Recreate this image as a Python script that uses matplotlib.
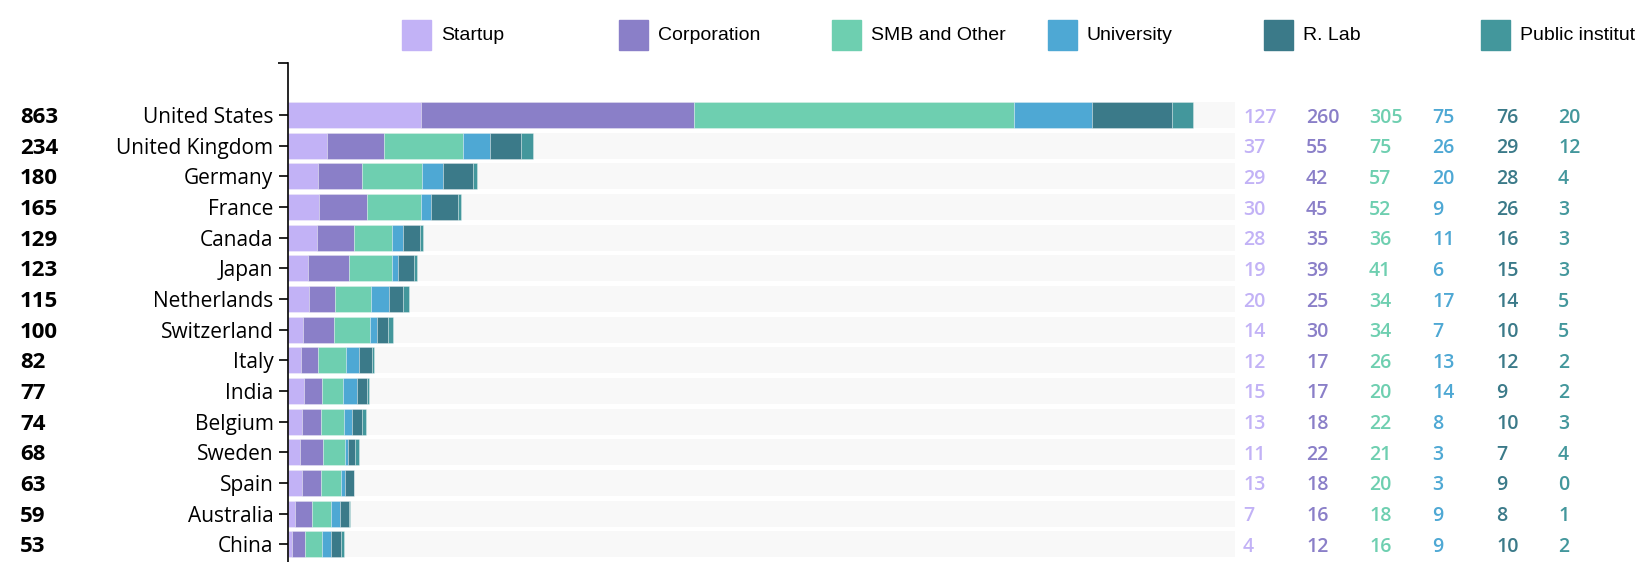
import matplotlib.pyplot as plt
from matplotlib.transforms import blended_transform_factory
from matplotlib.patches import Rectangle

# data
countries = ["United States", "United Kingdom", "Germany", "France", "Canada", "Japan",
             "Netherlands", "Switzerland", "Italy", "India", "Belgium", "Sweden",
             "Spain", "Australia", "China"]
categories = ["Startup", "Corporation", "SMB and Other", "University", "R. Lab",
              "Public institution"]
startup = [127, 37, 29, 30, 28, 19, 20, 14, 12, 15, 13, 11, 13, 7, 4]
corporation = [260, 55, 42, 45, 35, 39, 25, 30, 17, 17, 18, 22, 18, 16, 12]
smb_other = [305, 75, 57, 52, 36, 41, 34, 34, 26, 20, 22, 21, 20, 18, 16]
university = [75, 26, 20, 9, 11, 6, 17, 7, 13, 14, 8, 3, 3, 9, 9]
r_lab = [76, 29, 28, 26, 16, 15, 14, 10, 12, 9, 10, 7, 9, 8, 10]
public_inst = [20, 12, 4, 3, 3, 3, 5, 5, 2, 2, 3, 4, 0, 1, 2]

series = [startup, corporation, smb_other, university, r_lab, public_inst]
colors = ["#c2b2f6", "#8a7fc8", "#6ecfb0", "#4ea8d4", "#3b7a89", "#43979c"]
totals = [sum(v) for v in zip(*series)]

W, H = 1636, 562
fig = plt.figure(figsize=(W / 100, H / 100), dpi=100)

# axes geometry in pixels
ax_left, ax_right, ax_top = 288, 1235, 63
ax = fig.add_axes([ax_left / W, 0, (ax_right - ax_left) / W, 1 - ax_top / H])
xmax = 903
ax.set_xlim(0, xmax)
ax.set_ylim(14.58, -1.70)

n = len(countries)
ypos = list(range(n))
bar_h = 0.85

# fond gris
ax.barh(ypos, [xmax] * n, height=bar_h, color="#f8f8f8", zorder=1)

left = [0] * n
for vals, col in zip(series, colors):
    ax.barh(ypos, vals, left=left, height=bar_h, color=col,
            edgecolor=(1, 1, 1, 0.35), linewidth=0.6, zorder=2)
    left = [a + b for a, b in zip(left, vals)]

# axe gauche
for s in ["top", "right", "bottom"]:
    ax.spines[s].set_visible(False)
ax.spines["left"].set_linewidth(1.2)
ax.spines["left"].set_zorder(5)
ax.set_xticks([])
ax.set_yticks(ypos)
ax.set_yticklabels(countries, fontsize=15, fontfamily="Open Sans")
ax.tick_params(axis="y", length=6.5, width=1.2, pad=4)
ax.plot([-0.0105, 0], [1, 1], transform=ax.transAxes, color="black",
        lw=1.2, clip_on=False, solid_capstyle="butt")

tr = blended_transform_factory(fig.transFigure, ax.transData)

# totaux
for y, t in zip(ypos, totals):
    ax.text(20 / W, y, str(t), transform=tr, fontsize=16, fontweight="bold",
            fontfamily="Open Sans", ha="left", va="center_baseline", clip_on=False)

# colonnes de valeurs
col_x = [1243, 1306, 1369, 1432, 1496, 1558]
for vals, col, cx in zip(series, colors, col_x):
    for y, v in zip(ypos, vals):
        ax.text(cx / W, y, str(v), transform=tr, fontsize=14, fontweight="semibold",
                fontfamily="Open Sans", color=col, ha="left", va="center_baseline",
                clip_on=False)

# legende
leg_x = [402, 619, 832, 1048, 1264, 1481]
for lx, lab, col in zip(leg_x, categories, colors):
    fig.patches.append(Rectangle((lx / W, 1 - 50 / H), 29 / W, 30 / H,
                                 transform=fig.transFigure, color=col))
    fig.text((lx + 39) / W, 1 - 35 / H, lab, fontsize=14,
             fontfamily="Liberation Sans", ha="left", va="center")

fig.savefig("out.png", dpi=100)
